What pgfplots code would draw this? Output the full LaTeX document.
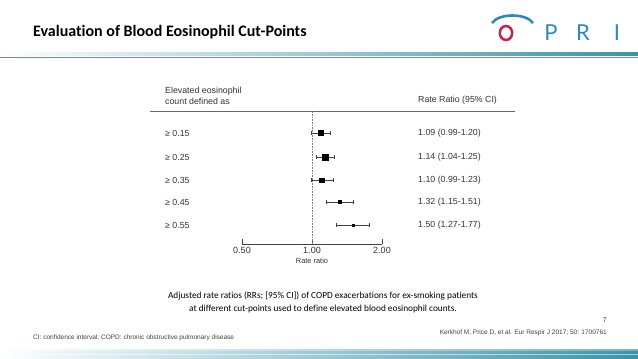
\documentclass[border=0pt]{standalone}
\usepackage{pgfplots}
\pgfplotsset{compat=1.18}
\usepackage{fontspec}
\setmainfont{Liberation Sans}
\newfontfamily\calibri[Ligatures={NoCommon}]{Carlito}
\newfontfamily\logofont{Lato}
\definecolor{teal1}{HTML}{3A93A9}
\definecolor{greyblue}{HTML}{7A88A6}
\definecolor{logoblue}{HTML}{2E88B8}
\definecolor{crimson}{HTML}{C3224C}
\definecolor{axgrey}{HTML}{404040}
\begin{document}
\begin{tikzpicture}[x=1pt,y=1pt]
\path[use as bounding box] (0,0) rectangle (638,359);
% header
\node[anchor=west,inner sep=0pt,font=\calibri\bfseries\fontsize{16}{18}\selectfont] at (33,359-32) {Evaluation of Blood Eosinophil Cut-Points};
\shade[left color=white,right color=teal1] (0,359-55.5) rectangle (638,359-53);
\fill[greyblue] (0,359-58.5) rectangle (638,359-57);
% logo
\draw[logoblue,line width=2.6pt] (492,359-23) .. controls (499,359-13) and (526,359-13) .. (533,359-23);
\draw[crimson,line width=2.5pt] (506,359-33) ellipse [x radius=6.2, y radius=7];
\node[logoblue,font=\logofont\fontsize{22}{24}\selectfont,inner sep=0pt] at (551,359-33) {P};
\node[logoblue,font=\logofont\fontsize{22}{24}\selectfont,inner sep=0pt] at (583,359-33) {R};
\node[logoblue,font=\logofont\fontsize{22}{24}\selectfont,inner sep=0pt] at (617,359-33) {I};
% table headings
\node[anchor=west,inner sep=0pt,align=left,font=\fontsize{8.8}{11}\selectfont,text=axgrey!80!black] at (165,359-95.5) {Elevated eosinophil\\count defined as};
\node[anchor=west,inner sep=0pt,font=\fontsize{8.8}{11}\selectfont,text=axgrey!80!black] at (418,359-100) {Rate Ratio (95\% CI)};
\draw[axgrey!80,line width=0.9pt] (150,359-111) -- (515,359-111);
% row labels and CI texts
\foreach \y/\lab/\ci in {133/0.15/1.09 (0.99-1.20),157/0.25/1.14 (1.04-1.25),180/0.35/1.10 (0.99-1.23),202/0.45/1.32 (1.15-1.51),225/0.55/1.50 (1.27-1.77)}{
  \node[anchor=west,inner sep=0pt,font=\fontsize{8.8}{11}\selectfont,text=axgrey!80!black] at (165,359-\y) {≥ \lab};
  \node[anchor=west,inner sep=0pt,font=\fontsize{8.8}{11}\selectfont,text=axgrey!80!black] at (418,359-\y) {\ci};
}
\begin{axis}[
  at={(242pt,115pt)}, anchor=south west,
  scale only axis, width=140pt, height=133pt,
  xmode=log, xmin=0.5, xmax=2, ymin=0, ymax=133,
  axis x line*=bottom, axis y line=none,
  x axis line style={-,axgrey,line width=0.8pt},
  xtick={0.5,1,2}, xticklabels={0.50,1.00,2.00},
  ytick=\empty,
  tick align=inside, major tick length=5pt,
  tick style={axgrey,line width=0.8pt},
  xticklabel style={font=\fontsize{9}{11}\selectfont,text=axgrey!80!black},
  xlabel={Rate ratio}, xlabel style={font=\fontsize{7.4}{9}\selectfont,text=axgrey!80!black, yshift=3pt},
  log ticks with fixed point,
  clip=false,
]
\addplot[gray,densely dotted,line width=0.6pt] coordinates {(1,0) (1,133)};
% confidence intervals
\addplot[axgrey,line width=0.6pt,mark=|,mark size=2pt] coordinates {(0.99,111) (1.20,111)};
\addplot[axgrey,line width=0.6pt,mark=|,mark size=2pt] coordinates {(1.04,87) (1.25,87)};
\addplot[axgrey,line width=0.6pt,mark=|,mark size=2pt] coordinates {(0.99,64) (1.23,64)};
\addplot[axgrey,line width=0.6pt,mark=|,mark size=2pt] coordinates {(1.15,42) (1.51,42)};
\addplot[axgrey,line width=0.6pt,mark=|,mark size=2pt] coordinates {(1.27,19) (1.77,19)};
% point estimates
\addplot[only marks,mark=square*,black,mark size=2.7pt] coordinates {(1.09,111)};
\addplot[only marks,mark=square*,black,mark size=3.2pt] coordinates {(1.14,87)};
\addplot[only marks,mark=square*,black,mark size=2.2pt] coordinates {(1.10,64)};
\addplot[only marks,mark=square*,black,mark size=1.5pt] coordinates {(1.32,42)};
\addplot[only marks,mark=square*,black,mark size=0.9pt] coordinates {(1.50,19)};
\end{axis}
% caption
\node[align=center,inner sep=0pt,font=\calibri\fontsize{9.3}{13}\selectfont] at (323,359-302.5) {Adjusted rate ratios (RRs; [95\% CI]) of COPD exacerbations for ex-smoking patients\\at different cut-points used to define elevated blood eosinophil counts.};
% footers
\node[anchor=west,inner sep=0pt,font=\fontsize{6.5}{8}\selectfont,text=axgrey] at (33,359-338) {CI: confidence interval; COPD: chronic obstructive pulmonary disease};
\node[anchor=east,inner sep=0pt,font=\fontsize{6.5}{8}\selectfont,text=axgrey] at (607,359-333) {Kerkhof M, Price D, et al. Eur Respir J 2017; 50: 1700761};
\node[anchor=east,inner sep=0pt,font=\fontsize{7}{8}\selectfont,text=axgrey] at (607,359-320) {7};
% bottom bar
\shade[left color=white,right color=teal1!70] (0,359-352) rectangle (638,359-350);
\shade[left color=white,right color=teal1] (0,359-354.5) rectangle (638,359-352);
\shade[left color=white,right color=teal1!45] (0,359-356) rectangle (638,359-354.5);
\shade[left color=white,right color=teal1] (0,0) rectangle (638,359-356);
\end{tikzpicture}
\end{document}
